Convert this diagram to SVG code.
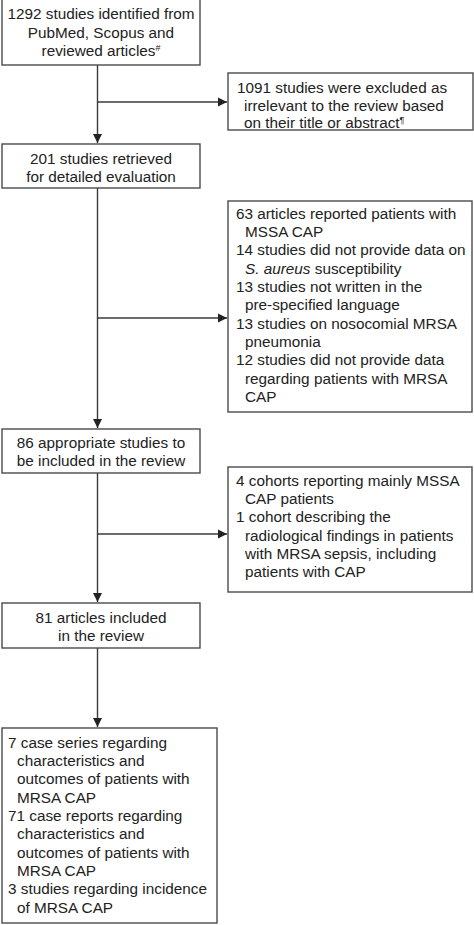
<svg xmlns="http://www.w3.org/2000/svg" width="474" height="925" viewBox="0 0 474 925">
<defs>
<style>
.box{fill:#fff;stroke:#4a4a4a;stroke-width:1.4}
.t{font-family:"Liberation Sans",Arial,sans-serif;font-size:15.3px;fill:#222}
.c{text-anchor:middle}
.ln{stroke:#3a3a3a;stroke-width:1.4;fill:none}
.sup{font-size:9px}
</style>
<marker id="ah" markerWidth="10" markerHeight="10" refX="9" refY="5" orient="auto" markerUnits="userSpaceOnUse">
<path d="M0,0.5 L9,5 L0,9.5 Z" fill="#222"/>
</marker>
</defs>
<rect width="474" height="925" fill="#fff"/>
<g id="connectors">
<line class="ln" x1="97.5" y1="65" x2="97.5" y2="143" marker-end="url(#ah)"/>
<line class="ln" x1="97.5" y1="102" x2="227" y2="102" marker-end="url(#ah)"/>
<line class="ln" x1="97.5" y1="188" x2="97.5" y2="428" marker-end="url(#ah)"/>
<line class="ln" x1="97.5" y1="318" x2="227" y2="318" marker-end="url(#ah)"/>
<line class="ln" x1="97.5" y1="473" x2="97.5" y2="602" marker-end="url(#ah)"/>
<line class="ln" x1="97.5" y1="534" x2="227" y2="534" marker-end="url(#ah)"/>
<line class="ln" x1="97.5" y1="648" x2="97.5" y2="727" marker-end="url(#ah)"/>
</g>
<g id="n1">
<rect class="box" x="2" y="-1" width="198" height="66"/>
<text class="t c" x="101" y="19">1292 studies identified from</text>
<text class="t c" x="101" y="37.5">PubMed, Scopus and</text>
<text class="t c" x="101" y="56">reviewed articles<tspan class="sup" dy="-5">#</tspan></text>
</g>
<g id="n2">
<rect class="box" x="228" y="73" width="245" height="57"/>
<text class="t" x="237" y="92.5">1091 studies were excluded as</text>
<text class="t" x="244" y="110.8">irrelevant to the review based</text>
<text class="t" x="244" y="128">on their title or abstract<tspan class="sup" dy="-5">¶</tspan></text>
</g>
<g id="n3">
<rect class="box" x="2" y="144" width="198" height="44"/>
<text class="t c" x="101" y="163.5">201 studies retrieved</text>
<text class="t c" x="101" y="181.5">for detailed evaluation</text>
</g>
<g id="n4">
<rect class="box" x="228" y="201" width="244" height="211"/>
<text class="t" x="236" y="218.5">63 articles reported patients with</text>
<text class="t" x="245" y="236.8">MSSA CAP</text>
<text class="t" x="236" y="255.2">14 studies did not provide data on</text>
<text class="t" x="245" y="273.5"><tspan font-style="italic">S. aureus</tspan> susceptibility</text>
<text class="t" x="236" y="291.8">13 studies not written in the</text>
<text class="t" x="245" y="310.2">pre-specified language</text>
<text class="t" x="236" y="328.5">13 studies on nosocomial MRSA</text>
<text class="t" x="245" y="346.8">pneumonia</text>
<text class="t" x="236" y="365.2">12 studies did not provide data</text>
<text class="t" x="245" y="383.5">regarding patients with MRSA</text>
<text class="t" x="245" y="401.8">CAP</text>
</g>
<g id="n5">
<rect class="box" x="2" y="429" width="198" height="44"/>
<text class="t c" x="101" y="447.5">86 appropriate studies to</text>
<text class="t c" x="101" y="465.5">be included in the review</text>
</g>
<g id="n6">
<rect class="box" x="228" y="467" width="244" height="125"/>
<text class="t" x="236" y="485.5">4 cohorts reporting mainly MSSA</text>
<text class="t" x="245" y="503.8">CAP patients</text>
<text class="t" x="236" y="522.2">1 cohort describing the</text>
<text class="t" x="245" y="540.5">radiological findings in patients</text>
<text class="t" x="245" y="558.8">with MRSA sepsis, including</text>
<text class="t" x="245" y="577.2">patients with CAP</text>
</g>
<g id="n7">
<rect class="box" x="2" y="603" width="198" height="45"/>
<text class="t c" x="101" y="622.5">81 articles included</text>
<text class="t c" x="101" y="640.5">in the review</text>
</g>
<g id="n8">
<rect class="box" x="2" y="728" width="215" height="195"/>
<text class="t" x="8" y="747.5">7 case series regarding</text>
<text class="t" x="17" y="765.8">characteristics and</text>
<text class="t" x="17" y="784.2">outcomes of patients with</text>
<text class="t" x="17" y="802.5">MRSA CAP</text>
<text class="t" x="8" y="820.8">71 case reports regarding</text>
<text class="t" x="17" y="839.2">characteristics and</text>
<text class="t" x="17" y="857.5">outcomes of patients with</text>
<text class="t" x="17" y="875.8">MRSA CAP</text>
<text class="t" x="8" y="894.2">3 studies regarding incidence</text>
<text class="t" x="17" y="912.5">of MRSA CAP</text>
</g>
</svg>
